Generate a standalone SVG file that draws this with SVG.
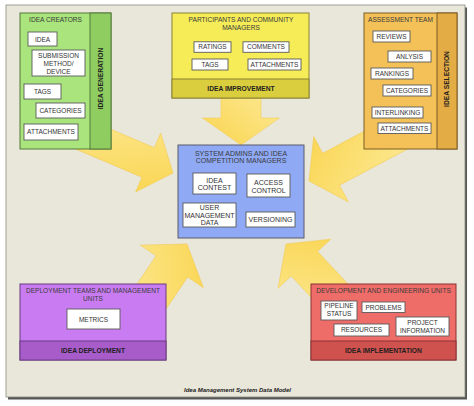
<svg xmlns="http://www.w3.org/2000/svg" width="474" height="406" viewBox="0 0 474 406">
<defs>
<linearGradient id="ag" x1="0" y1="0" x2="1" y2="1">
<stop offset="0" stop-color="#fdeb9a"/>
<stop offset="1" stop-color="#f9d44e"/>
</linearGradient>
</defs>
<style>
text{font-family:"Liberation Sans",Arial,sans-serif;font-size:6.5px;fill:#333;text-anchor:middle}
.t{font-size:6.6px;fill:#3a3a3a}
.b{font-weight:bold;fill:#1e1e1e;font-size:6.7px}
.bt{font-size:7px}
.w{fill:#fff;stroke:#5a5a5a;stroke-width:0.9}
.arrow{fill:url(#ag);stroke:#f2c94c;stroke-width:0.5}
</style>
<rect x="0" y="0" width="474" height="406" fill="#ffffff"/>
<rect x="8" y="7.5" width="459" height="392" fill="#555"/>
<rect x="6" y="5" width="459" height="392" fill="#e9e6da" stroke="#8a8a80" stroke-width="0.8"/>

<g id="connectors">
<polygon class="arrow" points="0,0 -27,-38.5 -27,-20 -60,-20 -60,20 -27,20 -27,38.5" transform="translate(241,145) rotate(90)"/>
<polygon class="arrow" points="0,0 -27,-32 -27,-16 -125,-16 -125,16 -27,16 -27,32" transform="translate(173,173) rotate(23)"/>
<polygon class="arrow" points="0,0 -25,-37 -25,-18 -115,-18 -115,18 -25,18 -25,37" transform="translate(309,181) rotate(152)"/>
<polygon class="arrow" points="0,0 -27,-38 -27,-19 -95,-19 -95,19 -27,19 -27,38" transform="translate(187,244) rotate(-56)"/>
<polygon class="arrow" points="0,0 -27,-36 -27,-18 -95,-18 -95,18 -27,18 -27,36" transform="translate(286,244) rotate(-133)"/>
</g>

<g id="idea-generation">
<rect x="20" y="13" width="91" height="136" fill="#a9e57c" stroke="#55783a" stroke-width="1"/>
<rect x="90" y="13" width="21" height="136" fill="#8fcd61" stroke="#55783a" stroke-width="1"/>
<text class="t" x="55.5" y="22.3">IDEA CREATORS</text>
<rect class="w" x="28" y="32" width="29" height="14"/>
<text x="42.5" y="41.8">IDEA</text>
<rect class="w" x="32" y="50" width="53" height="26"/>
<text x="58.5" y="57.5">SUBMISSION</text>
<text x="58.5" y="65.5">METHOD/</text>
<text x="58.5" y="73.5">DEVICE</text>
<rect class="w" x="24" y="84" width="37" height="15"/>
<text x="42.5" y="93.8">TAGS</text>
<rect class="w" x="36" y="103" width="49" height="15"/>
<text x="60.5" y="112.8">CATEGORIES</text>
<rect class="w" x="24" y="124" width="54" height="16"/>
<text x="51" y="134.3">ATTACHMENTS</text>
<text class="b" transform="translate(102.8,78.5) rotate(-90)">IDEA GENERATION</text>
</g>

<g id="idea-improvement">
<rect x="172" y="13" width="137" height="85" fill="#f5ec58" stroke="#8a8232" stroke-width="1"/>
<rect x="172" y="79" width="137" height="19" fill="#dacd3e" stroke="#8a8232" stroke-width="1"/>
<text class="t" x="241" y="21.5">PARTICIPANTS AND COMMUNITY</text>
<text class="t" x="241" y="29.5">MANAGERS</text>
<rect class="w" x="194" y="41.8" width="37" height="10.5"/>
<text x="212.5" y="49.3">RATINGS</text>
<rect class="w" x="243" y="41.8" width="46" height="10.5"/>
<text x="266" y="49.3">COMMENTS</text>
<rect class="w" x="192" y="59" width="36" height="11"/>
<text x="210" y="66.8">TAGS</text>
<rect class="w" x="248" y="59" width="53" height="11"/>
<text x="274.5" y="66.8">ATTACHMENTS</text>
<text class="b" x="241" y="91.3">IDEA IMPROVEMENT</text>
</g>

<g id="idea-selection">
<rect x="364" y="13" width="93" height="136" fill="#f3c158" stroke="#7c5c22" stroke-width="1"/>
<rect x="437" y="13" width="20" height="136" fill="#e4ac45" stroke="#7c5c22" stroke-width="1"/>
<text class="t" x="400.5" y="22.3">ASSESSMENT TEAM</text>
<rect class="w" x="373" y="31" width="37" height="11"/>
<text x="391.5" y="38.8">REVIEWS</text>
<rect class="w" x="388" y="51" width="43" height="11"/>
<text x="409.5" y="58.8">ANLYSIS</text>
<rect class="w" x="371" y="68" width="42" height="11"/>
<text x="392" y="75.8">RANKINGS</text>
<rect class="w" x="383" y="85" width="48" height="11"/>
<text x="407" y="92.8">CATEGORIES</text>
<rect class="w" x="372" y="107" width="51" height="11"/>
<text x="397.5" y="114.8">INTERLINKING</text>
<rect class="w" x="378" y="123" width="53" height="10.5"/>
<text x="404.5" y="130.6">ATTACHMENTS</text>
<text class="b" transform="translate(449.3,79) rotate(-90)">IDEA SELECTION</text>
</g>

<g id="system-admins">
<rect x="178" y="145" width="126" height="93" fill="#8fa9f5" stroke="#5a5a6a" stroke-width="1"/>
<text class="t bt" x="241" y="155.5">SYSTEM ADMINS AND IDEA</text>
<text class="t bt" x="241" y="163">COMPETITION MANAGERS</text>
<rect class="w" x="193" y="173" width="43" height="21"/>
<text class="bt" x="214.5" y="182.5">IDEA</text>
<text class="bt" x="214.5" y="190">CONTEST</text>
<rect class="w" x="247" y="174" width="43" height="23"/>
<text class="bt" x="268.5" y="184.8">ACCESS</text>
<text class="bt" x="268.5" y="192.5">CONTROL</text>
<rect class="w" x="183" y="203" width="53" height="24"/>
<text class="bt" x="209.5" y="209.8">USER</text>
<text class="bt" x="209.5" y="217.5">MANAGEMENT</text>
<text class="bt" x="209.5" y="225.2">DATA</text>
<rect class="w" x="246" y="212" width="49" height="15"/>
<text class="bt" x="270.5" y="221.8">VERSIONING</text>
</g>

<g id="idea-deployment">
<rect x="20" y="284" width="146" height="76" fill="#c97cf2" stroke="#6a3a80" stroke-width="1"/>
<rect x="20" y="341" width="146" height="19" fill="#a75cca" stroke="#6a3a80" stroke-width="1"/>
<text class="t" x="93" y="293.3">DEPLOYMENT TEAMS AND MANAGEMENT</text>
<text class="t" x="93" y="301.3">UNITS</text>
<rect class="w" x="67" y="309" width="53" height="20"/>
<text x="93.5" y="321.5">METRICS</text>
<text class="b" x="93" y="353.3">IDEA DEPLOYMENT</text>
</g>

<g id="idea-implementation">
<rect x="311" y="284" width="145" height="76" fill="#ef6d69" stroke="#8a3232" stroke-width="1"/>
<rect x="311" y="341" width="145" height="19" fill="#d0524f" stroke="#8a3232" stroke-width="1"/>
<text class="t" x="383.5" y="293.3">DEVELOPMENT AND ENGINEERING UNITS</text>
<rect class="w" x="321" y="301" width="36" height="19"/>
<text x="339" y="307.5">PIPELINE</text>
<text x="339" y="315.7">STATUS</text>
<rect class="w" x="362" y="302" width="43" height="10.5"/>
<text x="383.5" y="309.6">PROBLEMS</text>
<rect class="w" x="334" y="324" width="55" height="12"/>
<text x="361.5" y="332.4">RESOURCES</text>
<rect class="w" x="396" y="317" width="53" height="19"/>
<text x="422.5" y="325">PROJECT</text>
<text x="422.5" y="333">INFORMATION</text>
<text class="b" x="383.5" y="353.3">IDEA IMPLEMENTATION</text>
</g>

<text x="237.5" y="392" style="font-weight:bold;font-style:italic;font-size:6px;fill:#222">Idea Management System Data Model</text>
</svg>
